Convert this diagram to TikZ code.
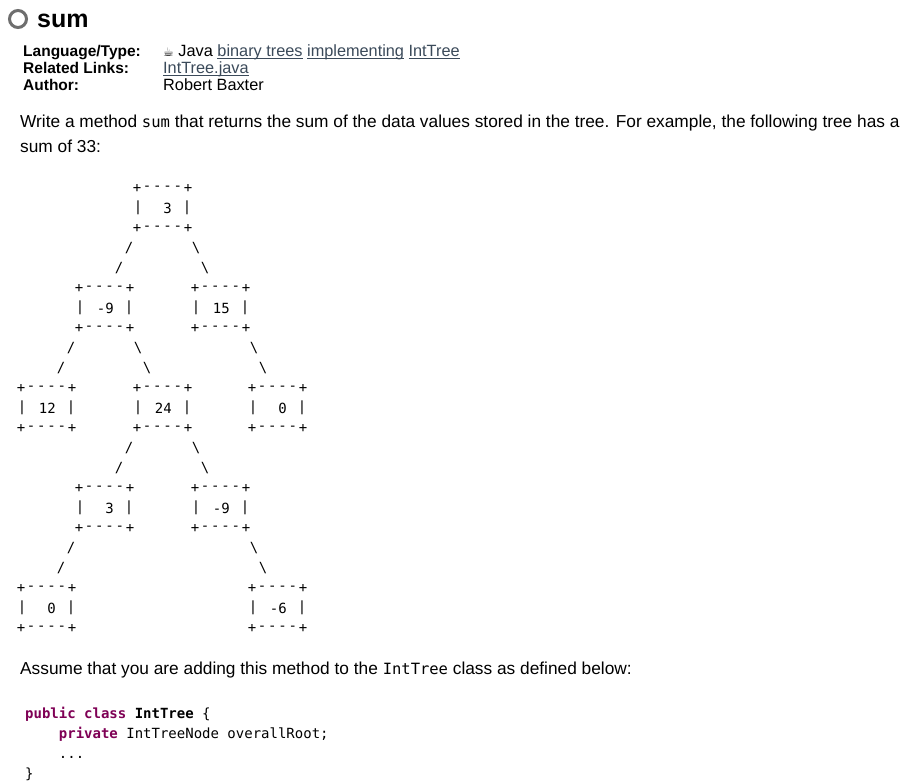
\documentclass[tikz,border=0pt]{standalone}
\usepackage{fontspec}
\setmainfont{Liberation Sans}
\newfontfamily\mono{DejaVu Sans Mono}
\newfontfamily\djv{DejaVu Sans}
\definecolor{linkc}{HTML}{3B4A5A}
\definecolor{kw}{HTML}{7F0055}
\definecolor{ringc}{HTML}{6E6E6E}
\tikzset{
  txt/.style={inner sep=0pt,anchor=base west,font=\fontsize{17.3}{19}\selectfont},
  lab/.style={inner sep=0pt,anchor=base west,font=\fontsize{15.5}{17}\selectfont\bfseries},
  val/.style={inner sep=0pt,anchor=base west,font=\fontsize{16.3}{17}\selectfont},
  gl/.style={inner sep=0pt,font=\mono\fontsize{14}{14}\selectfont},
  code/.style={inner sep=0pt,anchor=base west,font=\mono\fontsize{14}{16}\selectfont},
}
\newcommand\lk[1]{\textcolor{linkc}{\setbox0\hbox{#1}\rlap{\rule[-1.8pt]{\wd0}{0.7pt}}\box0}}
\newcommand\tbox[4]{%
  \node[gl] (#1tl) at (#2,#3) {+};
  \node[gl] (#1tr) at (#2+51,#3) {+};
  \node[gl] (#1bl) at (#2,#3+40) {+};
  \node[gl] (#1br) at (#2+51,#3+40) {+};
  \foreach \k in {1,2,3,4}{\node[gl] at (#2+10.2*\k,#3) {-};\node[gl] at (#2+10.2*\k,#3+40) {-};}
  \node[gl] (#1l) at (#2+1,#3+20) {|};
  \node[gl] (#1r) at (#2+50,#3+20) {|};
  \node[gl,anchor=east] (#1) at (#2+35,#3+20) {#4};}
\newcommand\lsl[3]{\node[gl] (#1a) at (#2-8,#3+60) {/};\node[gl] (#1b) at (#2-18,#3+80) {/};}
\newcommand\rsl[3]{\node[gl] (#1a) at (#2+59,#3+60) {\textbackslash};\node[gl] (#1b) at (#2+68,#3+80) {\textbackslash};}
\begin{document}
\begin{tikzpicture}[x=1pt,y=-1pt]
\useasboundingbox (0,0) rectangle (909,781);
\fill[white] (0,0) rectangle (909,781);
\draw[ringc,line width=3pt] (18,19) circle (8.5);
\node[inner sep=0pt,anchor=base west,font=\fontsize{25}{28}\selectfont\bfseries] (title) at (37,28) {sum};
\node[lab] (l1) at (23,57) {Language/Type:};
\node[lab] (l2) at (23,74) {Related Links:};
\node[lab] (l3) at (23,91) {Author:};
\node[val] (v1) at (163,57) {{\djv\fontsize{12}{12}\selectfont ☕}\ Java \lk{binary trees} \lk{implementing} \lk{IntTree}};
\node[val] (v2) at (163,74) {\lk{IntTree.java}};
\node[val] (v3) at (163,91) {Robert Baxter};
\node[txt] (p1) at (20,127) {Write a method {\mono\fontsize{15.5}{16}\selectfont sum} that returns the sum of the data values stored in the tree. For example, the following tree has a};
\node[txt] (p2) at (20,152) {sum of 33:};
\tbox{n1}{137}{188}{3}
\lsl{s1}{137}{188}\rsl{s2}{137}{188}
\tbox{n2}{79}{288}{-9}
\tbox{n3}{195}{288}{15}
\lsl{s3}{79}{288}\rsl{s4}{79}{288}\rsl{s5}{195}{288}
\tbox{n4}{21}{388}{12}
\tbox{n5}{137}{388}{24}
\tbox{n6}{252}{388}{0}
\lsl{s6}{137}{388}\rsl{s7}{137}{388}
\tbox{n7}{79}{488}{3}
\tbox{n8}{195}{488}{-9}
\lsl{s8}{79}{488}\rsl{s9}{195}{488}
\tbox{n9}{21}{588}{0}
\tbox{n10}{252}{588}{-6}
\node[txt] (a1) at (20,674) {Assume that you are adding this method to the {\mono\fontsize{15.5}{16}\selectfont IntTree} class as defined below:};
\node[code] (c1) at (25,718) {\textcolor{kw}{\bfseries public class} \textbf{IntTree} \{};
\node[code] (c2) at (25,738) {\ \ \ \ \textcolor{kw}{\bfseries private} IntTreeNode overallRoot;};
\node[code] (c3) at (25,758) {\ \ \ \ ...};
\node[code] (c4) at (25,778) {\}};
\end{tikzpicture}
\end{document}
